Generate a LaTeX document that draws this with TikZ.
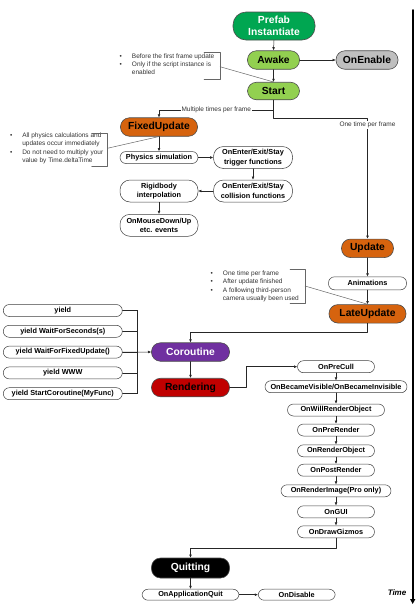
\documentclass[tikz,border=0pt]{standalone}
\usepackage{fontspec}
\setmainfont{Liberation Sans}
\usetikzlibrary{positioning,calc,arrows.meta}
\definecolor{prefabgreen}{RGB}{0,166,81}
\definecolor{initgreen}{RGB}{146,208,80}
\definecolor{enablegray}{RGB}{191,191,191}
\definecolor{updorange}{RGB}{214,99,14}
\definecolor{corpurple}{RGB}{112,48,160}
\definecolor{rendred}{RGB}{192,0,0}

\begin{document}
\begin{tikzpicture}[x=1pt, y=-1pt, line cap=round, line join=round,
  >={Latex[length=3.2pt,width=2.8pt]},
  phase/.style={rectangle, rounded corners=9pt, draw=black!70, line width=0.6pt,
    minimum width=52pt, minimum height=18.5pt, inner sep=1pt, align=center,
    font=\fontsize{10.3}{12}\selectfont\bfseries},
  event/.style={rectangle, rounded corners=6pt, draw=black!75, line width=0.5pt,
    fill=white, minimum width=77pt, minimum height=12pt, inner sep=1pt, align=center,
    font=\fontsize{7.3}{9.5}\selectfont\bfseries},
  eventtwo/.style={event, rounded corners=10pt, minimum height=22pt},
  note/.style={anchor=north west, inner sep=0pt, text=black!80,
    font=\fontsize{6.5}{8.1}\selectfont},
  bracket/.style={draw=black!60, line width=0.5pt},
  flow/.style={->, draw=black!85, line width=0.5pt},
  wire/.style={draw=black!85, line width=0.5pt},
  lbl/.style={fill=white, inner sep=1pt, text=black!80, font=\fontsize{6.5}{8}\selectfont}]
  \useasboundingbox (0,0) rectangle (418,611);

  %--- start of life ------------------------------------------------------
  \node[phase, fill=prefabgreen, text=white, minimum width=82pt, minimum height=28pt,
        rounded corners=13pt] (prefab) at (274,26) {Prefab\\Instantiate};
  \node[phase, fill=initgreen] (awake) at (273.5,60) {Awake};
  \node[phase, fill=enablegray, minimum width=62pt] (onenable) at (367,60) {OnEnable};
  \node[phase, fill=initgreen, minimum height=17.5pt] (start) at (273.5,91) {Start};

  \draw[flow] (prefab.south) -- (awake.north);
  \draw[flow] (awake.east) -- (onenable.west);
  \draw[flow] (awake.south) -- (start.north);

  % notes on Start
  \node[note] (startnote) at (119.5,52.7) {\begin{tabular}{@{}l@{\hspace{10pt}}l@{}}
    \textbullet & Before the first frame update\\
    \textbullet & Only if the script instance is\\
                & enabled\end{tabular}};
  \coordinate (startbr) at (220,66.7);
  \draw[bracket] (204,52.3) -- (220,52.3) -- (220,79) -- (204,79);
  \draw[bracket] (startbr) -- (start.north);

  %--- physics loop -------------------------------------------------------
  \node[phase, fill=updorange, minimum width=77pt] (fixedupdate) at (159,127) {FixedUpdate};
  \node[event, minimum width=78pt] (physics) at (159,157.5) {Physics simulation};
  \node[eventtwo, minimum width=79pt] (trigger) at (253,157.5) {OnEnter/Exit/Stay\\trigger functions};
  \node[eventtwo, minimum width=79pt] (collision) at (253,191) {OnEnter/Exit/Stay\\collision functions};
  \node[eventtwo, minimum width=78pt] (interp) at (159,191) {Rigidbody\\interpolation};
  \node[eventtwo, minimum width=78pt] (mouse) at (159,225.3) {OnMouseDown/Up\\etc. events};

  \draw[flow] (start.south) -- ++(0,10) coordinate (fork)
    -| node[lbl, pos=0.25] {Multiple times per frame} (fixedupdate.north);
  \draw[flow] (fixedupdate.south) -- (physics.north);
  \draw[flow] (physics.east) -- (trigger.west);
  \draw[flow] (trigger.south) -- (collision.north);
  \draw[flow] (collision.west) -- (interp.east);
  \draw[flow] (interp.south) -- (mouse.north);

  % notes on FixedUpdate
  \node[note] (fixednote) at (9.8,132) {\begin{tabular}{@{}l@{\hspace{10pt}}l@{}}
    \textbullet & All physics calculations and\\
                & updates occur immediately\\
    \textbullet & Do not need to multiply your\\
                & value by Time.deltaTime\end{tabular}};
  \coordinate (fixedbr) at (107.3,148.3);
  \draw[bracket] (91.7,133.3) -- (107.3,133.3) -- (107.3,166) -- (91.7,166);
  \draw[bracket] (fixedbr) -- (fixedupdate.south);

  %--- game logic ---------------------------------------------------------
  \node[phase, fill=updorange] (update) at (367.5,248.3) {Update};
  \node[event, minimum width=78pt, minimum height=13pt] (anim) at (367.5,283.3) {Animations};
  \node[phase, fill=updorange, minimum width=77pt] (lateupdate) at (367.5,313.8) {LateUpdate};

  \draw[flow] (fork) -- ++(0,8) -| node[lbl, pos=0.527] {One time per frame} (update.north);
  \draw[flow] (update.south) -- (anim.north);
  \draw[flow] (anim.south) -- (lateupdate.north);

  % notes on LateUpdate
  \node[note] (latenote) at (210.5,270) {\begin{tabular}{@{}l@{\hspace{10pt}}l@{}}
    \textbullet & One time per frame\\
    \textbullet & After update finished\\
    \textbullet & A following third-person\\
                & camera usually been used\end{tabular}};
  \coordinate (latebr) at (305,286);
  \draw[bracket] (290,269) -- (305,269) -- (305,303.3) -- (290,303.3);
  \draw[bracket] (latebr) -- (lateupdate.north);

  %--- coroutines ---------------------------------------------------------
  \node[phase, fill=corpurple, text=white, minimum width=78pt] (coroutine) at (190.5,352) {Coroutine};
  \node[phase, fill=rendred, minimum width=78pt] (rendering) at (190.5,387.5) {Rendering};

  \foreach \txt [count=\i] in {yield, yield WaitForSeconds(s), yield WaitForFixedUpdate(),
                              yield WWW, yield StartCoroutine(MyFunc)}
    \node[event, minimum width=119pt] (yield\i) at (62.8,289.7+20.8*\i) {\txt};
  \coordinate (bus) at (137.7,352);
  \foreach \i in {1,...,5}
    \draw[wire] (yield\i.east) -- (yield\i.east -| bus);
  \draw[wire] (yield1.east -| bus) -- (yield5.east -| bus);
  \draw[flow] (yield3.east) -- (coroutine.west);

  \draw[flow] (lateupdate.south) -- ++(0,8.5) -| (coroutine.north);
  \draw[flow] (coroutine.south) -- (rendering.north);

  %--- rendering ----------------------------------------------------------
  \node[event] (precull) at (336,366.7) {OnPreCull};
  \node[event, minimum width=142pt] (visible) at (336,386.7) {OnBecameVisible/OnBecameInvisible};
  \node[event, minimum width=97pt] (willrender) at (336,410) {OnWillRenderObject};
  \node[event] (prerender) at (336,430) {OnPreRender};
  \node[event] (renderobj) at (336,450.8) {OnRenderObject};
  \node[event] (postrender) at (336,470.2) {OnPostRender};
  \node[event, minimum width=110pt] (renderimage) at (336,490.8) {OnRenderImage(Pro only)};
  \node[event] (ongui) at (336,511.8) {OnGUI};
  \node[event] (gizmos) at (336,531.8) {OnDrawGizmos};

  \draw[flow] (rendering.east) -- ++(16.5,0) |- (precull.west);
  \foreach \a/\b in {precull/visible, visible/willrender, willrender/prerender,
                     prerender/renderobj, renderobj/postrender, postrender/renderimage,
                     renderimage/ongui, ongui/gizmos}
    \draw[flow] (\a.south) -- (\b.north);

  %--- end of life --------------------------------------------------------
  \node[phase, fill=black, text=white, minimum width=78pt, minimum height=20pt] (quitting) at (190.5,568) {Quitting};
  \node[event, minimum width=97pt, minimum height=11pt] (appquit) at (190.5,594.7) {OnApplicationQuit};
  \node[event, minimum height=11pt] (ondisable) at (296.7,594.7) {OnDisable};

  \draw[flow] (gizmos.south) -- ++(0,10) -| (quitting.north);
  \draw[flow] (quitting.south) -- (appquit.north);
  \draw[flow] (appquit.east) -- (ondisable.west);

  %--- time axis ----------------------------------------------------------
  \coordinate (timetop) at (412.7,10);
  \coordinate (timeend) at (412.7,604);
  \draw[line width=1.6pt, -{Triangle[length=5pt,width=5pt]}] (timetop) -- (timeend);
  \node[anchor=east, inner sep=0pt, font=\fontsize{8}{9}\selectfont\bfseries\itshape] (time) at (406.5,593) {Time};
\end{tikzpicture}
\end{document}
